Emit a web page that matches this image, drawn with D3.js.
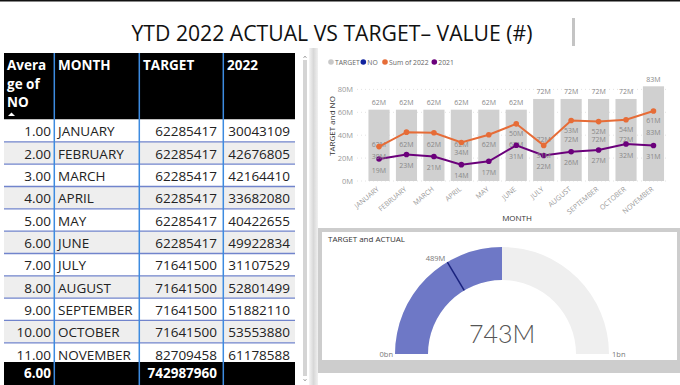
<!DOCTYPE html>
<html>
<head>
<meta charset="utf-8">
<script src="https://cdn.jsdelivr.net/npm/d3@7"></script>
<style>
body { margin:0; background:#fff; }
svg { display:block; font-family:"Open Sans", sans-serif; }
</style>
</head>
<body>
<svg width="680" height="385"></svg>
<script>

var months = ["JANUARY","FEBRUARY","MARCH","APRIL","MAY","JUNE","JULY","AUGUST","SEPTEMBER","OCTOBER","NOVEMBER"];
var monthNo = [1,2,3,4,5,6,7,8,9,10,11];
var target = [62285417,62285417,62285417,62285417,62285417,62285417,71641500,71641500,71641500,71641500,82709458];
var actual2022 = [30043109,42676805,42164410,33682080,40422655,49922834,31107529,52801499,51882110,53553880,61178588];
var actual2021 = [19.2e6,23.1e6,21.4e6,14.3e6,17.2e6,31.2e6,22.3e6,25.6e6,27.1e6,32.3e6,31.0e6];
var label2022 = [true,false,false,true,false,true,true,true,true,true,true];
var yTicks = [0,20e6,40e6,60e6,80e6];
var legendNames = ["TARGET","NO","Sum of 2022","2021"];
var legendColors = ["#c8c8c8","#12239e","#e66c37","#6b007b"];

var svg = d3.select("svg");
var fmtM = function(d) { return Math.round(d/1e6) + "M"; };

// top frame line and title
svg.append("rect").attr("x",0).attr("y",0).attr("width",680).attr("height",1.5).attr("fill","#111");
svg.append("text")
    .attr("x",332).attr("y",41)
    .attr("text-anchor","middle")
    .attr("font-size",21.2)
    .attr("fill","#111")
    .text("YTD 2022 ACTUAL VS TARGET\u2013 VALUE (#)");
svg.append("rect").attr("x",572).attr("y",18).attr("width",3).attr("height",28).attr("fill","#c4c4c4");

// ---------- table ----------
var colX = [4,54.3,139.3,223.3,295];
var rowTop = 119.5, rowH = 22.33;
var tbl = svg.append("g").attr("font-size",13.5).attr("fill","#222");

tbl.append("rect").attr("x",4).attr("y",53).attr("width",291).attr("height",66.5).attr("fill","#000");

tbl.selectAll(".rowbg")
  .data(months)
  .enter().append("rect")
    .attr("x",4)
    .attr("y",function(d,i){ return rowTop + i*rowH; })
    .attr("width",291)
    .attr("height",rowH)
    .attr("fill",function(d,i){ return i%2==1 ? "#eeeeee" : "#ffffff"; });

tbl.selectAll(".rowline")
  .data(months.slice(1))
  .enter().append("line")
    .attr("x1",4).attr("x2",295)
    .attr("y1",function(d,i){ return rowTop + (i+1)*rowH; })
    .attr("y2",function(d,i){ return rowTop + (i+1)*rowH; })
    .attr("stroke","#7184cc").attr("stroke-width",1.3);

var rows = tbl.selectAll(".row")
  .data(months)
  .enter().append("g")
    .attr("transform",function(d,i){ return "translate(0," + (rowTop + i*rowH + 16.8) + ")"; });
rows.append("text").attr("x",51).attr("text-anchor","end").text(function(d,i){ return monthNo[i].toFixed(2); });
rows.append("text").attr("x",58).text(function(d){ return d; });
rows.append("text").attr("x",217).attr("text-anchor","end").text(function(d,i){ return target[i]; });
rows.append("text").attr("x",290).attr("text-anchor","end").text(function(d,i){ return actual2022[i]; });

// header
var hdr = tbl.append("g").attr("fill","#fff").attr("font-weight","bold");
hdr.append("text").attr("x",7).attr("y",70).text("Avera");
hdr.append("text").attr("x",7).attr("y",88.5).text("ge of");
hdr.append("text").attr("x",7).attr("y",107).text("NO");
hdr.append("path").attr("d","M8,116 L11.5,112.5 L15,116 Z").attr("fill","#fff");
hdr.append("text").attr("x",58).attr("y",70).text("MONTH");
hdr.append("text").attr("x",143).attr("y",70).text("TARGET");
hdr.append("text").attr("x",227).attr("y",70).text("2022");

// total row
tbl.append("rect").attr("x",4).attr("y",362).attr("width",291).attr("height",23).attr("fill","#000");
tbl.append("text").attr("x",51).attr("y",378).attr("text-anchor","end").attr("fill","#fff").attr("font-weight","bold")
    .text(d3.mean(monthNo).toFixed(2));
tbl.append("text").attr("x",217).attr("y",378).attr("text-anchor","end").attr("fill","#fff").attr("font-weight","bold")
    .text(d3.sum(target));

tbl.selectAll(".colline")
  .data(colX.slice(1,4))
  .enter().append("line")
    .attr("x1",function(d){ return d; }).attr("x2",function(d){ return d; })
    .attr("y1",53).attr("y2",385)
    .attr("stroke","#3d8be0").attr("stroke-width",1.5);

// scrollbar + shadow
svg.append("rect").attr("x",303).attr("y",60).attr("width",4).attr("height",316).attr("fill","#d4d4d4");
svg.append("path").attr("d","M303.5,58 L305,56 L306.5,58").attr("fill","none").attr("stroke","#aaa");
svg.append("path").attr("d","M303.5,379 L305,381 L306.5,379").attr("fill","none").attr("stroke","#aaa");
var grad = svg.append("defs").append("linearGradient").attr("id","shade");
grad.append("stop").attr("offset","0").attr("stop-color","#f4f4f4");
grad.append("stop").attr("offset","0.5").attr("stop-color","#d8d8d8");
grad.append("stop").attr("offset","1").attr("stop-color","#f0f0f0");
svg.append("rect").attr("x",309).attr("y",48).attr("width",9).attr("height",337).attr("fill","url(#shade)");

// ---------- combo chart ----------
var x = d3.scaleBand().domain(months).range([365.3,667.2]).paddingInner(0.23).paddingOuter(0.115);
var y = d3.scaleLinear().domain([0,80e6]).range([181,89.4]);

var ch = svg.append("g");

// legend
var leg = ch.selectAll(".leg")
  .data(legendNames)
  .enter().append("g")
    .attr("transform",function(d,i){ return "translate(" + [331,363.3,385,434.3][i] + ",62)"; });
leg.append("circle").attr("r",2.8).attr("fill",function(d,i){ return legendColors[i]; });
leg.append("text").attr("x",4).attr("y",2.6).attr("font-size",6.8).attr("fill","#666").text(function(d){ return d; });

// grid
ch.selectAll(".grid")
  .data(yTicks)
  .enter().append("line")
    .attr("x1",357).attr("x2",669)
    .attr("y1",function(d){ return y(d); }).attr("y2",function(d){ return y(d); })
    .attr("stroke","#e4e4e4").attr("stroke-dasharray","1,3");

ch.append("g")
    .attr("transform","translate(353,0)")
    .call(d3.axisLeft(y).tickValues(yTicks).tickSize(0).tickPadding(0).tickFormat(fmtM))
    .call(function(g){ g.select(".domain").remove(); })
    .selectAll("text").attr("font-size",7.5).attr("fill","#999").attr("font-family","Open Sans");

ch.append("text")
    .attr("transform","translate(335,126) rotate(-90)")
    .attr("text-anchor","middle")
    .attr("font-size",8).attr("fill","#333")
    .text("TARGET and NO");

// bars
ch.selectAll(".bar")
  .data(months)
  .enter().append("rect")
    .attr("x",function(d){ return x(d); })
    .attr("y",function(d,i){ return y(target[i]); })
    .attr("width",x.bandwidth())
    .attr("height",function(d,i){ return y(0) - y(target[i]); })
    .attr("fill","#d0d0d0");

ch.selectAll(".toplab")
  .data(months)
  .enter().append("text")
    .attr("x",function(d){ return x(d) + x.bandwidth()/2; })
    .attr("y",function(d,i){ return y(target[i]) - 4.5; })
    .attr("text-anchor","middle").attr("font-size",7).attr("fill","#888")
    .text(function(d,i){ return fmtM(target[i]); });

ch.selectAll(".midlab")
  .data(months)
  .enter().append("text")
    .attr("x",function(d){ return x(d) + x.bandwidth()/2; })
    .attr("y",function(d,i){ return (y(target[i]) + y(0))/2 + 1.8; })
    .attr("text-anchor","middle").attr("font-size",7).attr("fill","#888")
    .text(function(d,i){ return fmtM(target[i]); });

// lines
var cx = function(d,i){ return x(months[i]) + x.bandwidth()/2; };
var lineGen = d3.line().x(cx).y(function(d){ return y(d); });

[[actual2022,"#e66c37"],[actual2021,"#6b007b"]].forEach(function(s){
  ch.append("path").datum(s[0])
      .attr("d",lineGen)
      .attr("fill","none").attr("stroke",s[1]).attr("stroke-width",2);
  ch.selectAll(null)
    .data(s[0])
    .enter().append("circle")
      .attr("cx",cx).attr("cy",function(d){ return y(d); })
      .attr("r",2.8).attr("fill",s[1]);
});

ch.selectAll(".lab22")
  .data(actual2022)
  .enter().append("text")
    .filter(function(d,i){ return label2022[i]; })
    .attr("x",function(d){ return cx(d, actual2022.indexOf(d)); })
    .attr("y",function(d){ return y(d) + 12.5; })
    .attr("text-anchor","middle").attr("font-size",7).attr("fill","#888")
    .text(fmtM);

ch.selectAll(".lab21")
  .data(actual2021)
  .enter().append("text")
    .attr("x",cx)
    .attr("y",function(d){ return y(d) + 13.5; })
    .attr("text-anchor","middle").attr("font-size",7).attr("fill","#888")
    .text(fmtM);

var xa = ch.append("g")
    .attr("transform","translate(0,181)")
    .call(d3.axisBottom(x).tickSize(0).tickPadding(0));
xa.select(".domain").remove();
xa.selectAll("text")
    .attr("y",0).attr("dy","0.35em")
    .attr("transform","translate(-1,7) rotate(-40)")
    .style("text-anchor","end")
    .attr("font-size",7).attr("fill","#999").attr("font-family","Open Sans");

ch.append("text").attr("x",517).attr("y",221).attr("text-anchor","middle")
    .attr("font-size",8).attr("fill","#333").text("MONTH");

// ---------- gauge panel ----------
svg.append("rect").attr("x",318).attr("y",228).attr("width",362).attr("height",145).attr("fill","#cdcdcd");
svg.append("rect").attr("x",322).attr("y",232).attr("width",355).attr("height",128).attr("fill","#fff");
svg.append("text").attr("x",328).attr("y",242).attr("font-size",8).attr("fill","#333").text("TARGET and ACTUAL");

var gaugeValue = d3.sum(target);
var gaugeMark = d3.sum(actual2022);
var gaugeMax = gaugeValue * 2;
var gx = 502, gy = 354, rIn = 74, rOut = 107;
var ang = d3.scaleLinear().domain([0,gaugeMax]).range([-Math.PI/2, Math.PI/2]);
var arc = d3.arc().innerRadius(rIn).outerRadius(rOut);

var ga = svg.append("g").attr("transform","translate(" + gx + "," + gy + ")");
ga.append("path").attr("d",arc({startAngle:ang(0), endAngle:ang(gaugeMax)})).attr("fill","#efefef");
ga.append("path").attr("d",arc({startAngle:ang(0), endAngle:ang(gaugeValue)})).attr("fill","#6e78c6");

var ma = ang(gaugeMark);
ga.append("line")
    .attr("x1",rIn*Math.sin(ma)).attr("y1",-rIn*Math.cos(ma))
    .attr("x2",rOut*Math.sin(ma)).attr("y2",-rOut*Math.cos(ma))
    .attr("stroke","#1a237e").attr("stroke-width",1.5);
ga.append("text")
    .attr("x",111*Math.sin(ma)).attr("y",-111*Math.cos(ma) + 2)
    .attr("text-anchor","end").attr("font-size",7.5).attr("fill","#777")
    .text(fmtM(gaugeMark));
ga.append("text").attr("x",-rOut - 2).attr("y",3).attr("text-anchor","end")
    .attr("font-size",7.5).attr("fill","#777").text("0bn");
ga.append("text").attr("x",rOut + 3).attr("y",3)
    .attr("font-size",7.5).attr("fill","#777").text(Math.floor(gaugeMax/1e9) + "bn");
ga.append("text").attr("x",0).attr("y",-11).attr("text-anchor","middle")
    .attr("font-size",25).attr("font-weight",300).attr("font-family","Lato, 'Open Sans', sans-serif").attr("fill","#555")
    .text(fmtM(gaugeValue));

</script>
</body>
</html>
